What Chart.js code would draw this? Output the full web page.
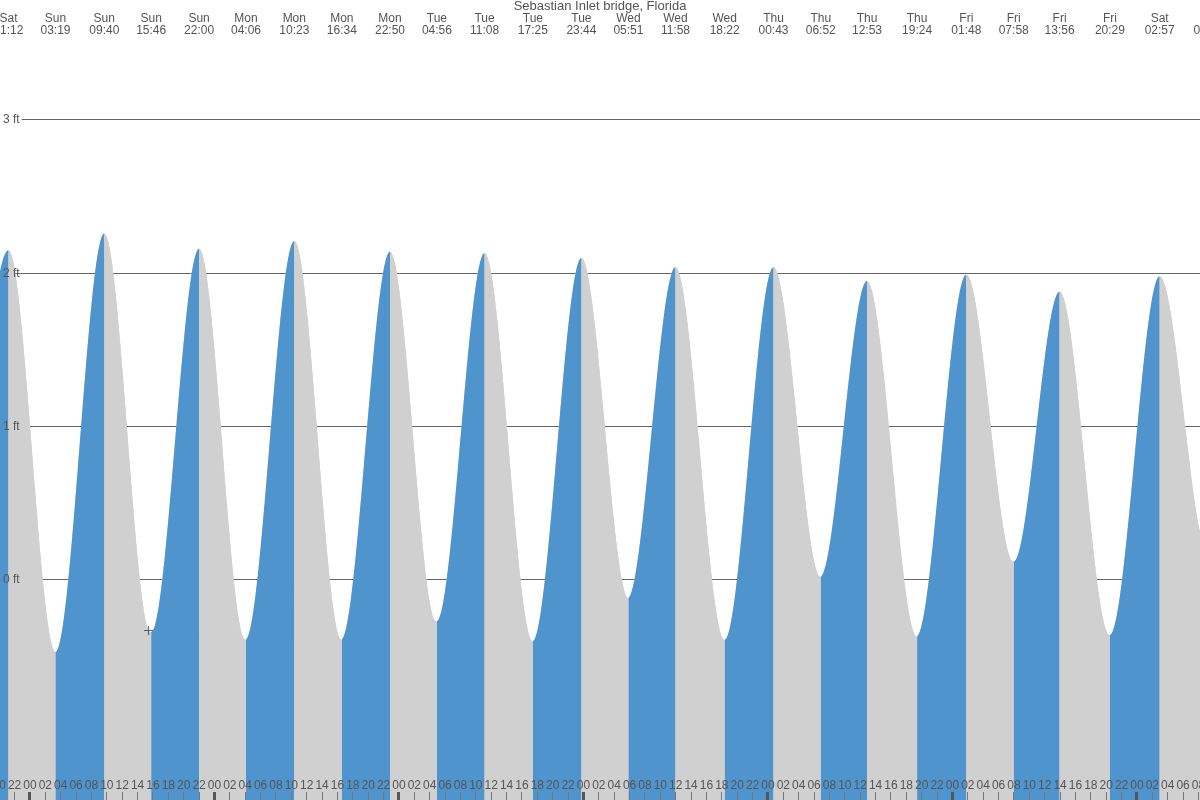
<!DOCTYPE html>
<html>
<head>
<meta charset="utf-8">
<title>Sebastian Inlet bridge, Florida</title>
<script src="https://cdn.jsdelivr.net/npm/chart.js@4.4.1/dist/chart.umd.min.js"></script>
<style>
  html, body { margin: 0; padding: 0; background: #fff; }
  #wrap { width: 1200px; height: 800px; }
</style>
</head>
<body>
<div id="wrap"><canvas id="tideChart" width="1200" height="800"></canvas></div>
<script>
const chartTitle = 'Sebastian Inlet bridge, Florida';

// high / low water times (first and last are just outside the view)
const extremeDays = ['Sat', 'Sat', 'Sun', 'Sun', 'Sun', 'Sun', 'Mon', 'Mon', 'Mon', 'Mon',
    'Tue', 'Tue', 'Tue', 'Tue', 'Wed', 'Wed', 'Wed', 'Thu', 'Thu', 'Thu', 'Thu',
    'Fri', 'Fri', 'Fri', 'Fri', 'Sat', 'Sat', 'Sat'];
const extremeTimes = ['14:58', '21:12', '03:19', '09:40', '15:46', '22:00', '04:06', '10:23', '16:34', '22:50',
    '04:56', '11:08', '17:25', '23:44', '05:51', '11:58', '18:22', '00:43', '06:52', '12:53', '19:24',
    '01:48', '07:58', '13:56', '20:29', '02:57', '09:18', '15:40'];
const extremeHeights = [-0.30, 2.15, -0.47, 2.26, -0.34, 2.16, -0.39, 2.21, -0.39, 2.14,
    -0.27, 2.13, -0.40, 2.10, -0.12, 2.04, -0.39, 2.04, 0.02, 1.95, -0.37,
    1.99, 0.12, 1.88, -0.36, 1.98, 0.17, 1.85];

// the little cross marker
const markerDay = 'Sun';
const markerTime = '15:26';
const markerHeight = -0.33;

const yTicks = [0, 1, 2, 3];

// hours counted from Sun 00:00
const xMin = -3.90;
const xMax = 152.20;
const yMin = -1.435;
const yMax = 3.541;
const xAxisAt = -1.383;

const risingColor = '#4f94cd';
const fallingColor = '#d0d0d0';
const textColor = '#555';
const fontFamily = '"Liberation Sans", Arial, sans-serif';

function toHours(dayOffset, time) {
    const parts = time.split(':');
    return dayOffset * 24 + parseInt(parts[0], 10) + parseInt(parts[1], 10) / 60;
}

// walk the day names: Sat (before Sunday) is -1, each change moves one day on
const extremeHours = [];
let dayOffset = -1;
extremeDays.forEach((d, i) => {
    if (i > 0 && d !== extremeDays[i - 1]) dayOffset++;
    extremeHours.push(toHours(dayOffset, extremeTimes[i]));
});

const tidePoints = extremeHours.map((h, i) => ({ x: h, y: extremeHeights[i] }));
const markerPoint = { x: toHours(0, markerTime), y: markerHeight };

const pad2 = n => (n < 10 ? '0' : '') + n;

const ctx = document.getElementById('tideChart').getContext('2d');
const tideChart = new Chart(ctx, {
    type: 'line',
    data: {
        datasets: [{
            label: 'marker',
            data: [markerPoint],
            showLine: false,
            pointStyle: 'cross',
            pointRadius: 4.5,
            borderColor: '#555',
            borderWidth: 1,
            order: 0
        }, {
            label: 'tide',
            data: tidePoints,
            cubicInterpolationMode: 'monotone',
            borderWidth: 0,
            pointRadius: 0,
            fill: 'start',
            backgroundColor: fallingColor,
            segment: {
                backgroundColor: c => c.p1.parsed.y > c.p0.parsed.y ? risingColor : fallingColor
            },
            order: 1
        }, {
            // plain grey underlay so the seams between rising/falling parts don't show white
            label: 'underlay',
            data: tidePoints,
            cubicInterpolationMode: 'monotone',
            borderWidth: 0,
            pointRadius: 0,
            fill: 'start',
            backgroundColor: fallingColor,
            order: 2
        }]
    },
    options: {
        responsive: false,
        animation: false,
        layout: { padding: 0, autoPadding: false },
        plugins: {
            legend: { display: false },
            tooltip: { enabled: false },
            title: {
                display: true,
                text: chartTitle,
                color: textColor,
                font: { family: fontFamily, size: 13, weight: 'normal', lineHeight: 1 },
                padding: { top: 0, bottom: 0 }
            }
        },
        scales: {
            x: {
                type: 'linear',
                min: xMin,
                max: xMax,
                position: { y: xAxisAt },
                afterBuildTicks: scale => {
                    const t = [];
                    for (let h = Math.floor(xMin / 2) * 2; h <= xMax + 2; h += 2) t.push({ value: h });
                    scale.ticks = t;
                },
                afterFit: scale => { scale.paddingLeft = 0; scale.paddingRight = 0; },
                border: { display: false },
                grid: {
                    z: 1,
                    drawOnChartArea: false,
                    tickLength: 8,
                    lineWidth: c => (c.tick && c.tick.value % 24 === 0) ? 3 : 1,
                    color: c => (c.tick && c.tick.value % 24 === 0) ? '#555' : '#777'
                },
                ticks: {
                    z: 1,
                    autoSkip: false,
                    maxRotation: 0,
                    minRotation: 0,
                    padding: -20,
                    color: textColor,
                    font: { family: fontFamily, size: 12, lineHeight: 1 },
                    callback: v => pad2(((v % 24) + 24) % 24)
                }
            },
            x2: {
                type: 'linear',
                position: 'top',
                min: xMin,
                max: xMax,
                afterBuildTicks: scale => {
                    scale.ticks = extremeHours.map(h => ({ value: h }));
                },
                afterFit: scale => { scale.paddingLeft = 0; scale.paddingRight = 0; scale.height = 24; },
                border: { display: false },
                grid: { display: false, drawTicks: false },
                ticks: {
                    autoSkip: false,
                    maxRotation: 0,
                    minRotation: 0,
                    padding: 0,
                    color: textColor,
                    font: { family: fontFamily, size: 12, lineHeight: 1 },
                    callback: (v, i) => [extremeDays[i], extremeTimes[i]]
                }
            },
            y: {
                type: 'linear',
                position: 'left',
                min: yMin,
                max: yMax,
                afterBuildTicks: scale => {
                    scale.ticks = yTicks.map(v => ({ value: v }));
                },
                afterFit: scale => { scale.width = 0; scale.paddingTop = 0; scale.paddingBottom = 0; },
                border: { display: false },
                grid: { color: '#666', lineWidth: 1, drawTicks: false },
                ticks: {
                    z: 1,
                    mirror: true,
                    padding: 3,
                    color: textColor,
                    font: { family: fontFamily, size: 12, lineHeight: 1 },
                    showLabelBackdrop: c => c.tick && c.tick.value === 3,
                    backdropColor: '#fff',
                    backdropPadding: { left: 4, right: 2, top: 2, bottom: 2 },
                    callback: v => v + ' ft'
                }
            }
        }
    }
});
</script>
</body>
</html>
